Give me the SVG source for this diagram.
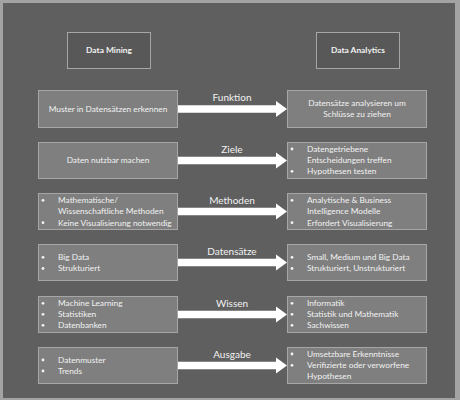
<svg xmlns="http://www.w3.org/2000/svg" width="460" height="400" viewBox="0 0 460 400">
<style>
.frame{fill:#5f5f5f;stroke:none}
.hdr{fill:#585858;stroke:#a6a6a6;stroke-width:1}
.box{fill:#7f7f7f;stroke:#a6a6a6;stroke-width:1}
text{font-family:Lato,"Open Sans",sans-serif;fill:#f2f2f2}
.t{font-size:8.3px}
.h{font-size:8.4px;font-weight:bold}
.lbl{font-size:10px}
.mid{text-anchor:middle}
.arrow{fill:#ffffff}
.bul{fill:#f2f2f2}
</style>
<defs>
<path id="arr" class="arrow" d="M0,-3.8 H98 V-8 L109,0 L98,8 V3.8 H0 Z"/>
<circle id="b" r="1.4"/>
</defs>
<rect x="0" y="0" width="460" height="400" fill="#a3a3a3"/>
<rect class="frame" x="3" y="3" width="452" height="395"/>

<g id="connectors">
<use href="#arr" x="178" y="109"/>
<text class="lbl mid" x="232" y="101">Funktion</text>
<use href="#arr" x="178" y="160.5"/>
<text class="lbl mid" x="232" y="152.5">Ziele</text>
<use href="#arr" x="178" y="211.5"/>
<text class="lbl mid" x="232" y="203.5">Methoden</text>
<use href="#arr" x="178" y="262.5"/>
<text class="lbl mid" x="232" y="254.5">Datensätze</text>
<use href="#arr" x="178" y="314.5"/>
<text class="lbl mid" x="232" y="306.5">Wissen</text>
<use href="#arr" x="178" y="365.5"/>
<text class="lbl mid" x="232" y="357.5">Ausgabe</text>
</g>

<g id="hdr-mining">
<rect class="hdr" x="67.5" y="32.5" width="83" height="36"/>
<text class="h mid" x="109" y="53">Data Mining</text>
</g>
<g id="hdr-analytics">
<rect class="hdr" x="316.5" y="32.5" width="83" height="36"/>
<text class="h mid" x="358" y="53">Data Analytics</text>
</g>

<g id="l1">
<rect class="box" x="38.5" y="90.5" width="139" height="37"/>
<text class="t mid" x="108" y="111.8">Muster in Datensätzen erkennen</text>
</g>
<g id="r1">
<rect class="box" x="287.5" y="90.5" width="139" height="37"/>
<text class="t mid" x="357" y="106">Datensätze analysieren um</text>
<text class="t mid" x="357" y="117.4">Schlüsse zu ziehen</text>
</g>

<g id="l2">
<rect class="box" x="38.5" y="142.5" width="139" height="36"/>
<text class="t mid" x="108" y="163.3">Daten nutzbar machen</text>
</g>
<g id="r2">
<rect class="box" x="287.5" y="142.5" width="139" height="36"/>
<use href="#b" class="bul" x="292" y="149"/>
<text class="t" x="307" y="151.8">Datengetriebene</text>
<text class="t" x="307" y="163">Entscheidungen treffen</text>
<use href="#b" class="bul" x="292" y="171.3"/>
<text class="t" x="307" y="174.2">Hypothesen testen</text>
</g>

<g id="l3">
<rect class="box" x="38.5" y="193.5" width="139" height="36"/>
<use href="#b" class="bul" x="43" y="200.3"/>
<text class="t" x="58" y="203">Mathematische/</text>
<text class="t" x="58" y="214.2">Wissenschaftliche Methoden</text>
<use href="#b" class="bul" x="43" y="222.7"/>
<text class="t" x="58" y="225.5">Keine Visualisierung notwendig</text>
</g>
<g id="r3">
<rect class="box" x="287.5" y="193.5" width="139" height="36"/>
<use href="#b" class="bul" x="292" y="200.3"/>
<text class="t" x="307" y="203">Analytische &amp; Business</text>
<text class="t" x="307" y="214.2">Intelligence Modelle</text>
<use href="#b" class="bul" x="292" y="222.7"/>
<text class="t" x="307" y="225.5">Erfordert Visualisierung</text>
</g>

<g id="l4">
<rect class="box" x="38.5" y="244.5" width="139" height="36"/>
<use href="#b" class="bul" x="43" y="257.3"/>
<text class="t" x="58" y="260">Big Data</text>
<use href="#b" class="bul" x="43" y="268.5"/>
<text class="t" x="58" y="271.3">Strukturiert</text>
</g>
<g id="r4">
<rect class="box" x="287.5" y="244.5" width="139" height="36"/>
<use href="#b" class="bul" x="292" y="257.3"/>
<text class="t" x="307" y="260">Small, Medium und Big Data</text>
<use href="#b" class="bul" x="292" y="268.5"/>
<text class="t" x="307" y="271.3">Strukturiert, Unstrukturiert</text>
</g>

<g id="l5">
<rect class="box" x="38.5" y="296.5" width="139" height="36"/>
<use href="#b" class="bul" x="43" y="303.3"/>
<text class="t" x="58" y="306">Machine Learning</text>
<use href="#b" class="bul" x="43" y="314.3"/>
<text class="t" x="58" y="317.1">Statistiken</text>
<use href="#b" class="bul" x="43" y="325.3"/>
<text class="t" x="58" y="328.2">Datenbanken</text>
</g>
<g id="r5">
<rect class="box" x="287.5" y="296.5" width="139" height="36"/>
<use href="#b" class="bul" x="292" y="303.3"/>
<text class="t" x="307" y="306">Informatik</text>
<use href="#b" class="bul" x="292" y="314.3"/>
<text class="t" x="307" y="317.1">Statistik und Mathematik</text>
<use href="#b" class="bul" x="292" y="325.3"/>
<text class="t" x="307" y="328.2">Sachwissen</text>
</g>

<g id="l6">
<rect class="box" x="38.5" y="347.5" width="139" height="36"/>
<use href="#b" class="bul" x="43" y="360"/>
<text class="t" x="58" y="362.8">Datenmuster</text>
<use href="#b" class="bul" x="43" y="371"/>
<text class="t" x="58" y="373.9">Trends</text>
</g>
<g id="r6">
<rect class="box" x="287.5" y="347.5" width="139" height="36"/>
<use href="#b" class="bul" x="292" y="354"/>
<text class="t" x="307" y="356.8">Umsetzbare Erkenntnisse</text>
<use href="#b" class="bul" x="292" y="365.3"/>
<text class="t" x="307" y="368.1">Verifizierte oder verworfene</text>
<text class="t" x="307" y="379.4">Hypothesen</text>
</g>
</svg>
